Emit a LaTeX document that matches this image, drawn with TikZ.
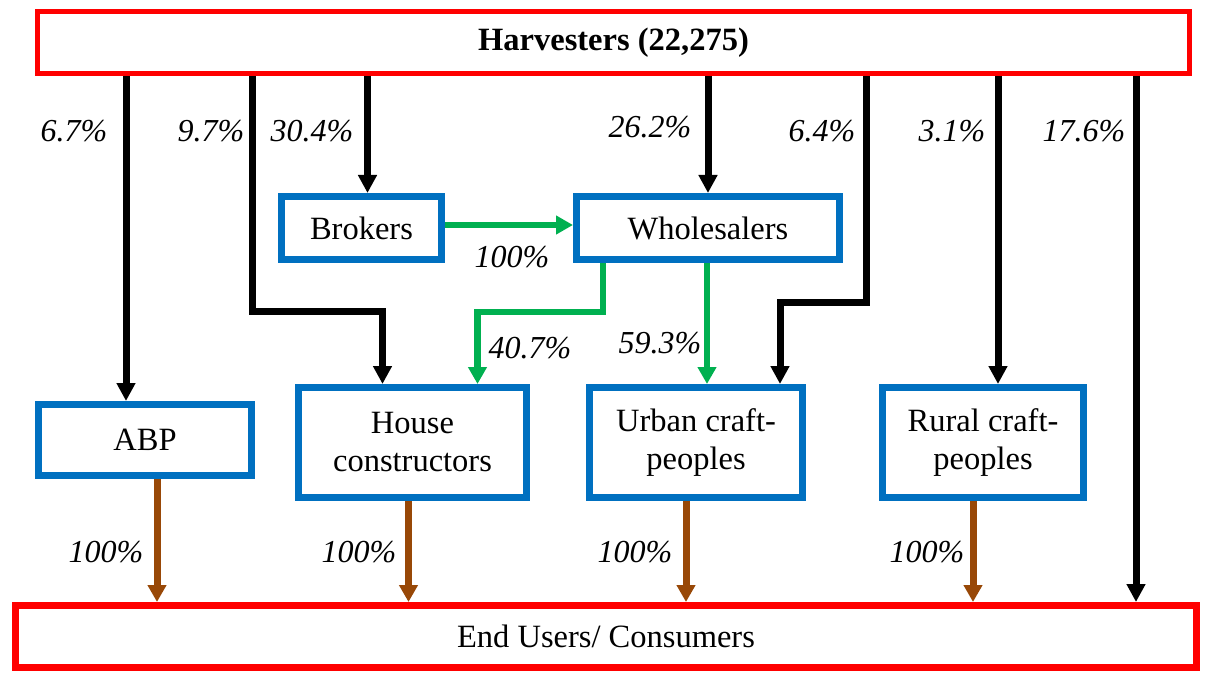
\documentclass[tikz,border=0pt]{standalone}
\usepackage{fontspec}
\setmainfont{Liberation Serif}
\usetikzlibrary{arrows.meta}
\definecolor{boxred}{RGB}{255,0,0}
\definecolor{boxblue}{RGB}{0,112,192}
\definecolor{flowgreen}{RGB}{0,176,80}
\definecolor{flowbrown}{RGB}{152,72,7}
\tikzset{
  endbox/.style={shape=rectangle,draw=boxred,line width=5pt,inner sep=0pt,align=center,font=\fontsize{32.5}{38}\selectfont},
  actor/.style={shape=rectangle,draw=boxblue,line width=7pt,inner sep=0pt,align=center,font=\fontsize{32.5}{38}\selectfont},
  share/.style={inner sep=0pt,font=\fontsize{32}{38}\selectfont\itshape},
  blk/.style={-{Triangle[length=18pt,width=18pt]},draw=black,line width=7pt},
  grn/.style={-{Triangle[length=17pt,width=18pt]},draw=flowgreen,line width=6.5pt},
  brn/.style={-{Triangle[length=17pt,width=18pt]},draw=flowbrown,line width=7pt}
}
\begin{document}
\begin{tikzpicture}[x=1pt,y=-1pt]
\useasboundingbox (0,0) rectangle (1205,674);
\node[endbox,minimum width=1152pt,minimum height=62pt] (harv) at (613.5,42.5) {\textbf{Harvesters (22,275)}};
\node[endbox,line width=7pt,minimum width=1181pt,minimum height=62pt] (endu) at (606,636.5) {End Users/ Consumers};
\node[actor,minimum width=160pt,minimum height=63pt] (brok) at (361.5,228) {Brokers};
\node[actor,minimum width=263pt,minimum height=63pt] (whole) at (708,228) {Wholesalers};
\node[actor,minimum width=213pt,minimum height=71pt] (abp) at (145,440) {ABP};
\node[actor,minimum width=228pt,minimum height=110pt] (house) at (412.5,442.5) {House\\constructors};
\node[actor,minimum width=213pt,minimum height=110pt] (urban) at (696,442.5) {Urban craft-\\peoples};
\node[actor,minimum width=201pt,minimum height=110pt] (rural) at (983,442.5) {Rural craft-\\peoples};

\draw[blk] ([xshift=-19pt]abp.north |- harv.south) -- ([xshift=-19pt]abp.north);
\draw[blk] ([xshift=-361pt]harv.south) -- ++(0,235) -| ([xshift=-30pt]house.north);
\draw[blk] ([xshift=6pt]brok.north |- harv.south) -- ([xshift=6pt]brok.north);
\draw[blk] (whole.north |- harv.south) -- (whole.north);
\draw[blk] ([xshift=253pt]harv.south) -- ++(0,226) -| ([xshift=84pt]urban.north);
\draw[blk] ([xshift=15pt]rural.north |- harv.south) -- ([xshift=15pt]rural.north);
\draw[blk] ([xshift=530pt]endu.north |- harv.south) -- ([xshift=530pt]endu.north);

\draw[grn] ([yshift=3pt]brok.east) -- ([yshift=3pt]whole.west);
\draw[grn] ([xshift=-105pt]whole.south) -- ++(0,49) -| ([xshift=65pt]house.north);
\draw[grn] ([xshift=-1pt]whole.south) -- ([xshift=-1pt]whole.south |- urban.north);

\draw[brn] ([xshift=12pt]abp.south) -- ([xshift=12pt]abp.south |- endu.north);
\draw[brn] ([xshift=-4pt]house.south) -- ([xshift=-4pt]house.south |- endu.north);
\draw[brn] ([xshift=-10pt]urban.south) -- ([xshift=-10pt]urban.south |- endu.north);
\draw[brn] ([xshift=-10pt]rural.south) -- ([xshift=-10pt]rural.south |- endu.north);

\node[share] (s67) at (74,131) {6.7\%};
\node[share] (s97) at (211,131) {9.7\%};
\node[share] (s304) at (312,131) {30.4\%};
\node[share] (s262) at (650,127) {26.2\%};
\node[share] (s64) at (822,131) {6.4\%};
\node[share] (s31) at (952,131) {3.1\%};
\node[share] (s176) at (1084,131) {17.6\%};
\node[share] (sbw) at (512,257) {100\%};
\node[share] (s407) at (530,348) {40.7\%};
\node[share] (s593) at (660,343) {59.3\%};
\node[share] (sabp) at (106,552) {100\%};
\node[share] (shouse) at (359,552) {100\%};
\node[share] (surban) at (635,552) {100\%};
\node[share] (srural) at (927,552) {100\%};
\end{tikzpicture}
\end{document}
